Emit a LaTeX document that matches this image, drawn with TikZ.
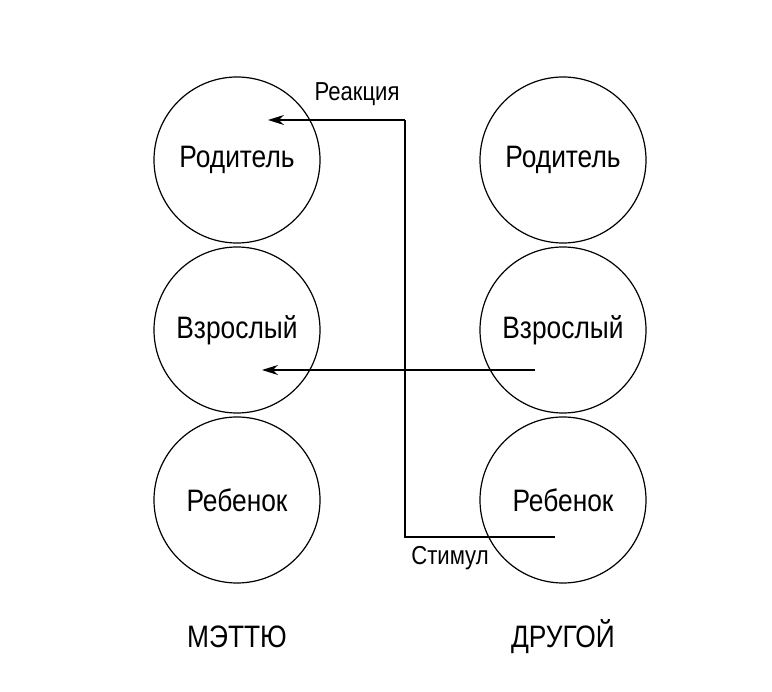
\documentclass[tikz,border=0pt]{standalone}
\usepackage{fontspec}
\setmainfont[FakeStretch=0.85]{Liberation Sans}
\usetikzlibrary{arrows.meta}
\begin{document}
\begin{tikzpicture}[x=1pt,y=-1pt,
  st/.style={circle,draw,line width=1.2pt,minimum size=166pt,inner sep=0pt,font=\fontsize{31}{34}\selectfont},
  lbl/.style={font=\fontsize{26}{30}\selectfont},
  ln/.style={line width=1.1pt},
  arr/.style={ln,-{Stealth[length=16pt,width=10pt]}}]
\useasboundingbox (0,0) rectangle (772,692);
\node[st] (lp) at (237,160) {Родитель};
\node[st] (la) at (237,330) {Взрослый};
\node[st] (lc) at (237,500) {Ребенок};
\node[st] (rp) at (563,160) {Родитель};
\node[st] (ra) at (563,330) {Взрослый};
\node[st] (rc) at (563,500) {Ребенок};
\coordinate (s0) at (555,537);
\coordinate (s1) at (405,537);
\coordinate (s2) at (405,120);
\coordinate (rt) at (268,120);
\coordinate (a0) at (535,370);
\coordinate (at) at (262,370);
\draw[ln] (s0) -- (s1) -- (s2);
\draw[arr] (s2) -- (rt);
\draw[arr] (a0) -- (at);
\node[lbl] (re) at (357,94) {Реакция};
\node[lbl] (sti) at (450,558) {Стимул};
\node[lbl,font=\fontsize{31}{34}\selectfont] (m) at (237,637) {МЭТТЮ};
\node[lbl,font=\fontsize{31}{34}\selectfont] (d) at (563,637) {ДРУГОЙ};
\end{tikzpicture}
\end{document}
